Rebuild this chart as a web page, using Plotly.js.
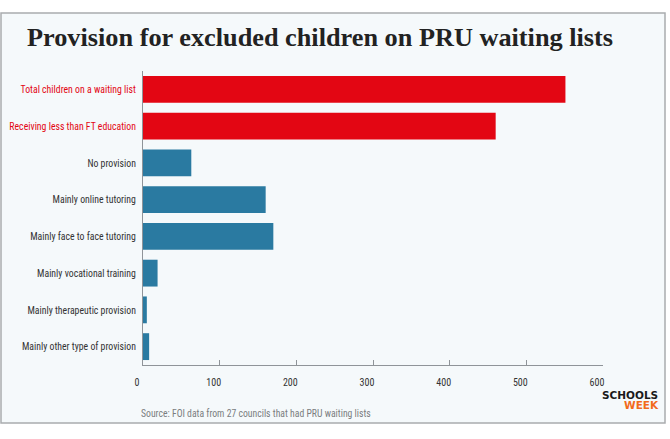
<!DOCTYPE html>
<html>
<head>
<meta charset="utf-8">
<script src="https://cdn.plot.ly/plotly-3.0.1.min.js"></script>
<style>
  html, body { margin: 0; padding: 0; background: #ffffff; }
  #chart { width: 670px; height: 439px; }
</style>
</head>
<body>
<div id="chart"></div>
<script>
// ---- data ----
const categories = [
  "Total children on a waiting list",
  "Receiving less than FT education",
  "No provision",
  "Mainly online tutoring",
  "Mainly face to face tutoring",
  "Mainly vocational training",
  "Mainly therapeutic provision",
  "Mainly other type of provision"
];
const values = [551, 460, 63, 160, 170, 19, 5, 8];
const highlighted = [true, true, false, false, false, false, false, false];
const xTickVals = [0, 100, 200, 300, 400, 500, 600];
const titleText = "Provision for excluded children on PRU waiting lists";
const sourceText = "Source: FOI data from 27 councils that had PRU waiting lists";
const logoTop = "SCHOOLS";
const logoBottom = "WEEK";

// ---- styling ----
const RED = "#e30613";
const BLUE = "#2a7aa1";
const ORANGE = "#f26a1b";
const W = 670, H = 439;
const L = 143, R = 67, T = 71, B = 74;
const pw = W - L - R, ph = H - T - B;
const px2x = p => (p - L) / pw;
const py2y = p => (H - B - p) / ph;
const narrow = "'Roboto Condensed', 'Liberation Sans Narrow', 'DejaVu Sans Condensed', 'DejaVu Sans', sans-serif";

const trace = {
  type: "bar",
  orientation: "h",
  y: categories,
  x: values,
  marker: {
    color: highlighted.map(h => h ? RED : BLUE),
    line: { width: 0 }
  },
  hoverinfo: "x+y"
};

const layout = {
  width: W, height: H,
  margin: { l: L, r: R, t: T, b: B, pad: 0 },
  paper_bgcolor: "#ffffff",
  plot_bgcolor: "rgba(0,0,0,0)",
  bargap: 0.27,
  showlegend: false,
  title: {
    text: "<b>" + titleText + "</b>",
    font: { family: "'Liberation Serif', 'DejaVu Serif', serif", size: 26, color: "#222222" },
    xref: "container", x: 27 / W, xanchor: "left",
    yref: "container", y: 1 - 37 / H, yanchor: "middle"
  },
  xaxis: {
    range: [0, 600],
    tickvals: xTickVals,
    ticks: "inside",
    ticklen: 5,
    tickcolor: "#8f9499",
    tickwidth: 1,
    showline: true,
    linecolor: "#8f9499",
    linewidth: 1,
    showgrid: false,
    zeroline: false,
    ticklabelshift: -6,
    ticklabelstandoff: 8,
    tickfont: { family: narrow, size: 10, color: "#333333" },
    fixedrange: true
  },
  yaxis: {
    type: "category",
    autorange: "reversed",
    tickvals: categories,
    ticktext: categories.map((c, i) => highlighted[i] ? "<span style='color:" + RED + "'>" + c + "</span>" : c),
    ticks: "",
    showline: true,
    linecolor: "#8f9499",
    linewidth: 1,
    showgrid: false,
    zeroline: false,
    ticklabelstandoff: 4,
    tickfont: { family: narrow, size: 10.5, color: "#333333" },
    fixedrange: true
  },
  shapes: [{
    type: "rect", layer: "below",
    xref: "paper", yref: "paper",
    x0: px2x(1), x1: px2x(665), y0: py2y(423), y1: py2y(13),
    fillcolor: "#f5f9fb",
    line: { color: "#a9acaf", width: 1.5 }
  }],
  annotations: [
    {
      text: sourceText, showarrow: false,
      xref: "paper", yref: "paper",
      x: px2x(139), xanchor: "left",
      y: py2y(413), yanchor: "middle",
      font: { family: narrow, size: 10, color: "#7a7d80" }
    },
    {
      text: "<b>" + logoTop + "</b><br><span style='color:" + ORANGE + "'><b>" + logoBottom + "</b></span>",
      showarrow: false, align: "right",
      xref: "paper", yref: "paper",
      x: px2x(661), xanchor: "right",
      y: py2y(402), yanchor: "middle",
      font: { family: "'DejaVu Sans', sans-serif", size: 10.5, color: "#1a1a1a" }
    }
  ]
};

// horizontally condense a text element (keeps it as real text)
function condense(el, factor, keep) {
  const bb0 = el.getBBox();
  const len = el.getComputedTextLength();
  if (!len) return;
  el.setAttribute("textLength", (len * factor).toFixed(2));
  el.setAttribute("lengthAdjust", "spacingAndGlyphs");
  const bb1 = el.getBBox();
  let dx = 0;
  if (keep === "left") dx = bb0.x - bb1.x;
  else if (keep === "right") dx = (bb0.x + bb0.width) - (bb1.x + bb1.width);
  if (dx) {
    const x = parseFloat(el.getAttribute("x") || "0");
    el.setAttribute("x", (x + dx).toFixed(2));
  }
}

Plotly.newPlot("chart", [trace], layout, { displayModeBar: false, staticPlot: true }).then(gd => {
  gd.querySelectorAll(".ytick text").forEach(t => condense(t, 0.93, "right"));
  const ann = gd.querySelectorAll(".annotation-text");
  if (ann[0]) condense(ann[0], 0.97, "left");
  const title = gd.querySelector(".gtitle");
  if (title) {
    const len = title.getComputedTextLength();
    condense(title, 586 / len, "left");
  }
  if (ann[1]) {
    const lines = ann[1].querySelectorAll("tspan.line");
    if (lines[1]) lines[1].setAttribute("dy", "0.92em");
  }
});
</script>
</body>
</html>
